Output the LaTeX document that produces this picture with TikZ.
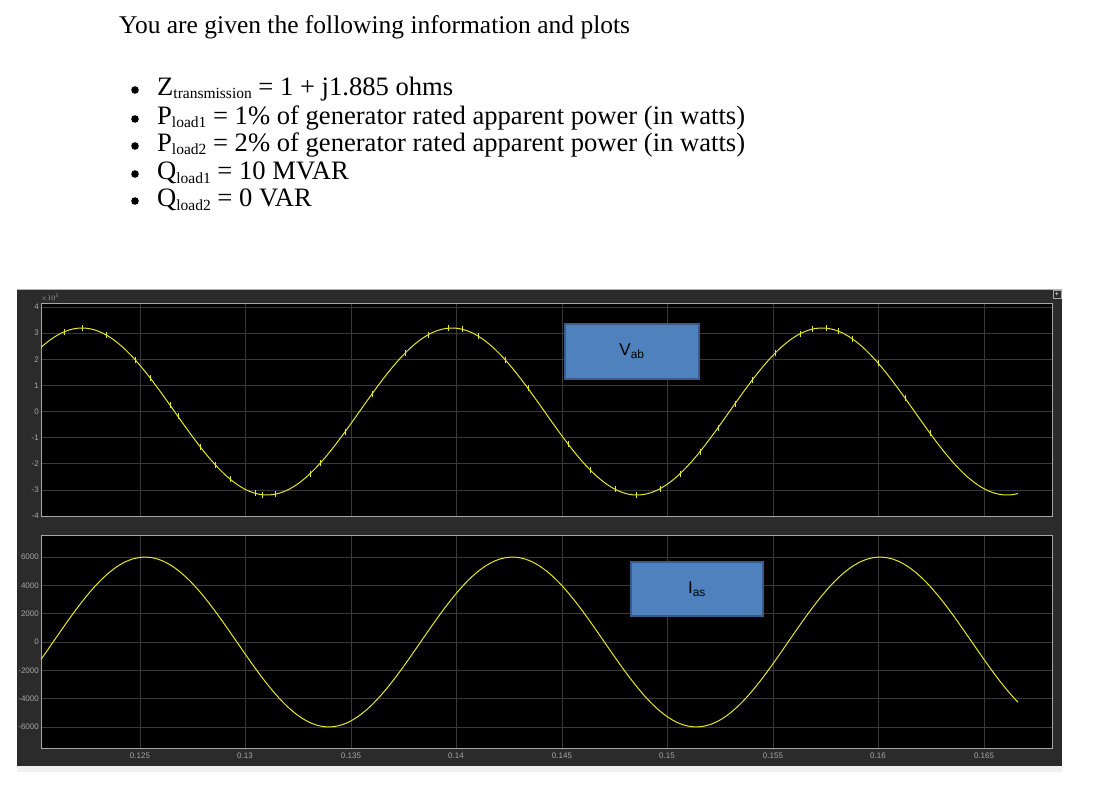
\documentclass[tikz,border=0pt]{standalone}
\usepackage{fontspec}
\setmainfont{Liberation Serif}
\newfontfamily\axf{Liberation Sans}
\newcommand\mysub[1]{\raisebox{-0.28ex}{\fontsize{15.5}{16}\selectfont #1}}
\begin{document}
\begin{tikzpicture}[x=1pt,y=-1pt,
  grd/.style={draw=gray!45!black,line width=0.6},
  tk/.style={font=\axf\fontsize{8}{9}\selectfont,text=gray!70,anchor=east,inner sep=1},
  tx/.style={font=\axf\fontsize{8}{9}\selectfont,text=gray!70,anchor=north,inner sep=1},
  lbox/.style={draw={rgb,255:red,56;green,93;blue,138},line width=2,fill={rgb,255:red,79;green,129;blue,189},minimum width=134,minimum height=55,font=\axf\fontsize{17}{19}\selectfont},
  bl/.style={anchor=west,font=\fontsize{25.5}{28}\selectfont,inner sep=0},
  bb/.style={anchor=west,font=\fontsize{26.6}{28}\selectfont,inner sep=0},
  sig/.style={draw={rgb,255:red,230;green,230;blue,40},line width=1}]
\useasboundingbox (0,0) rectangle (1108,797);
\fill[white] (0,0) rectangle (1108,797);
\node[bl] (title) at (119,27) {You are given the following information and plots};
\foreach \yy/\t [count=\i] in {
  89/{Z\mysub{transmission} = 1 + j1.885 ohms},
  118/{P\mysub{load1} = 1\% of generator rated apparent power (in watts)},
  145/{P\mysub{load2} = 2\% of generator rated apparent power (in watts)},
  173/{Q\mysub{load1} = 10 MVAR},
  200/{Q\mysub{load2} = 0 VAR}}{
  \fill (135,\yy+1) circle (3.8);
  \node[bb] (b\i) at (157,\yy) {\t};
}
% scope panel
\fill[gray!12] (17,766) rectangle (1062,772);
\fill[black!83] (17,289) rectangle (1062,766);
\draw[gray!60] (17,289) -- (1062,289);
\draw[gray!70] (1053,290) rectangle (1061,298);
\node[font=\axf\fontsize{7}{7}\selectfont,text=white,inner sep=0] (plus) at (1057,294) {+};
\fill[black] (41,303) rectangle (1052,516);
\fill[black] (41,535) rectangle (1052,748);
\foreach \xx in {140,245,351,456,562,667,773,878,984}{
  \draw[grd] (\xx,303) -- (\xx,516);
  \draw[grd] (\xx,535) -- (\xx,748);}
\foreach \v in {-4,...,4}{
  \draw[grd] (41,411.5-26.1*\v) -- (1052,411.5-26.1*\v);
  \node[tk] at (40,411.5-26.1*\v) {\v};}
\foreach \v in {-6000,-4000,-2000,0,2000,4000,6000}{
  \draw[grd] (41,642-0.01415*\v) -- (1052,642-0.01415*\v);
  \node[tk] at (40,642-0.01415*\v) {\v};}
\foreach \xx/\l in {140/0.125,245/0.13,351/0.135,456/0.14,562/0.145,667/0.15,773/0.155,878/0.16,984/0.165}
  \node[tx] at (\xx,752) {\l};
\draw[gray!70] (41,303) rectangle (1052,516);
\draw[gray!70] (41,535) rectangle (1052,748);
\node[anchor=south west,inner sep=0,font=\axf\fontsize{7}{7}\selectfont,text=gray!70] (exp) at (41,302) {$\times10^5$};
% signals
\draw[sig] plot[domain=41:1018,samples=300,smooth] (\x,{411.5-83.5*cos(0.97297*(\x-82))});
\foreach \xx in {64,82,106,135,150,170,178,200,215,230,255,262,275,310,320,345,372,405,428,448,462,478,505,528,568,590,615,636,660,680,700,718,735,752,775,800,812,826,838,852,878,905,930}
  \draw[sig,line width=0.7] (\xx,{411.5-83.5*cos(0.97297*(\xx-82))-3}) -- ++(0,6);
\draw[sig] plot[domain=41:1018,samples=300,smooth] (\x,{642-84.9*cos(0.97959*(\x-145))});
\node[lbox] (vab) at (632,351.5) {V\textsubscript{ab}};
\node[lbox,minimum width=132,minimum height=54] (ias) at (697,589) {I\textsubscript{as}};
\end{tikzpicture}
\end{document}
